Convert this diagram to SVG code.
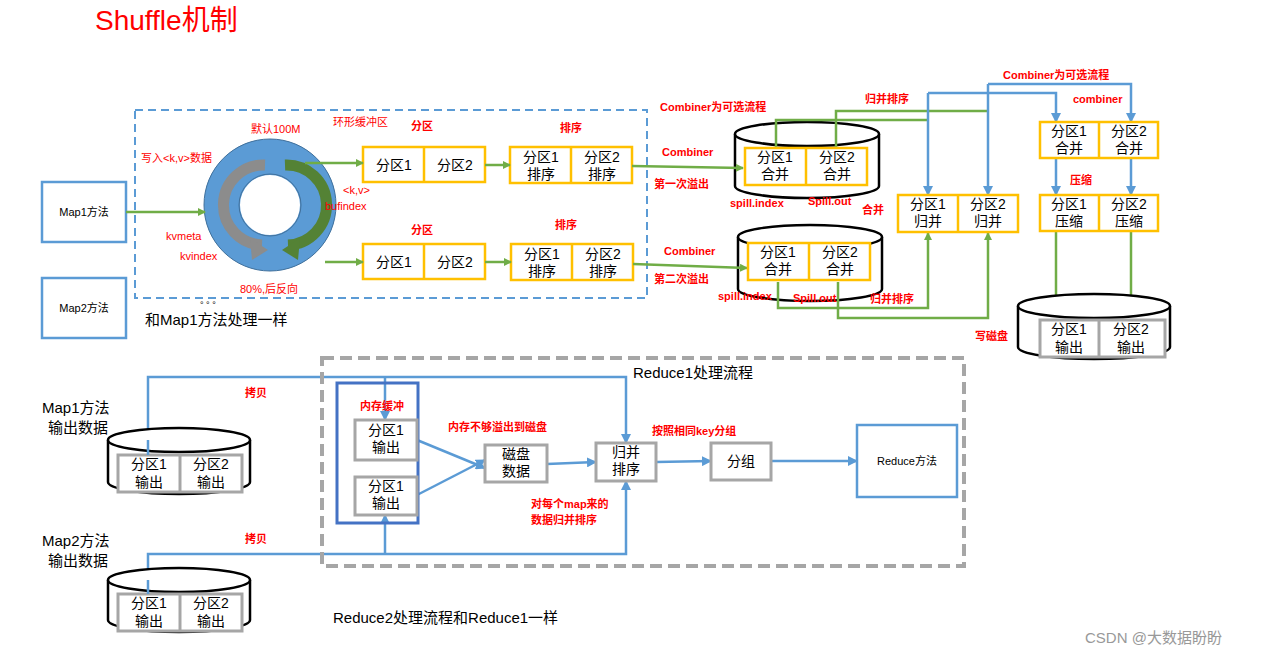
<svg xmlns="http://www.w3.org/2000/svg" width="1270" height="656" viewBox="0 0 1270 656">
<defs>
<style>
text{font-family:"Liberation Sans","Noto Sans CJK SC",sans-serif}
.r{fill:#ff0000;font-size:11px;font-weight:bold}
.rn{fill:#ff0000;font-size:11px}
.t{font-size:14px;fill:#000;text-anchor:middle}
.s{font-size:11px;fill:#000;text-anchor:middle}
.ob{fill:#fff;stroke:#ffc000;stroke-width:2.5}
.gb{fill:#fff;stroke:#a6a6a6;stroke-width:3}
.cyl{fill:#fff;stroke:#000;stroke-width:2.5}
.g{fill:none;stroke:#70ad47;stroke-width:2.5}
.b{fill:none;stroke:#5b9bd5;stroke-width:2.5}
</style>
<marker id="ag" markerWidth="8" markerHeight="8" refX="7" refY="4" orient="auto" markerUnits="userSpaceOnUse"><path d="M0,0L8,4L0,8z" fill="#70ad47"/></marker>
<marker id="ab" markerWidth="10" markerHeight="10" refX="9" refY="5" orient="auto" markerUnits="userSpaceOnUse"><path d="M0,0L10,5L0,10z" fill="#5b9bd5"/></marker>
</defs>
<rect width="1270" height="656" fill="#fff"/>
<text x="95" y="30" font-size="28" fill="#ff0000">Shuffle机制</text>

<g id="map1"><rect x="42" y="182" width="84" height="60" fill="#fff" stroke="#5b9bd5" stroke-width="2.5"/><text x="84" y="216" class="s">Map1方法</text></g>
<g id="map2"><rect x="42" y="278" width="84" height="60" fill="#fff" stroke="#5b9bd5" stroke-width="2.5"/><text x="84" y="312" class="s">Map2方法</text></g>
<rect x="135" y="110" width="512" height="188" fill="none" stroke="#5b9bd5" stroke-width="2" stroke-dasharray="8,5"/>

<g id="ring">
<circle cx="270" cy="205" r="48" fill="none" stroke="#5b9bd5" stroke-width="36"/>
<circle cx="270" cy="205" r="66" fill="none" stroke="#41719c" stroke-width="1"/>
<circle cx="270" cy="205" r="31" fill="none" stroke="#41719c" stroke-width="1"/>
<path d="M265,165 A40,40 0 0 0 262,245" fill="none" stroke="#8c8c8c" stroke-width="11"/>
<path d="M250,238 L268,250 L252,260 z" fill="#8c8c8c"/>
<path d="M285,165 A40,40 0 0 1 288,245" fill="none" stroke="#548235" stroke-width="11"/>
<path d="M300,238 L282,250 L298,260 z" fill="#548235"/>
</g>
<text x="251" y="133" class="rn">默认100M</text>
<text x="333" y="126" class="rn">环形缓冲区</text>
<text x="141" y="162" class="rn">写入&lt;k,v&gt;数据</text>
<text x="343" y="194" class="rn">&lt;k,v&gt;</text>
<text x="325" y="210" class="rn">bufindex</text>
<text x="166" y="240" class="rn">kvmeta</text>
<text x="180" y="260" class="rn">kvindex</text>
<text x="240" y="293" class="rn">80%,后反向</text>
<text x="145" y="325" font-size="15">和Map1方法处理一样</text>
<text x="200" y="308" font-size="9">° ° °</text>

<g id="p1"><rect x="363" y="147" width="122" height="35" class="ob"/><line x1="424" y1="147" x2="424" y2="182" stroke="#ffc000" stroke-width="2.5"/><text x="394" y="170" class="t">分区1</text><text x="455" y="170" class="t">分区2</text></g>
<g id="s1"><rect x="510" y="147" width="122" height="36" class="ob"/><line x1="571" y1="147" x2="571" y2="183" stroke="#ffc000" stroke-width="2.5"/><text x="541" y="162" class="t">分区1</text><text x="541" y="179" class="t">排序</text><text x="602" y="162" class="t">分区2</text><text x="602" y="179" class="t">排序</text></g>
<g id="p2"><rect x="363" y="244" width="122" height="35" class="ob"/><line x1="424" y1="244" x2="424" y2="279" stroke="#ffc000" stroke-width="2.5"/><text x="394" y="267" class="t">分区1</text><text x="455" y="267" class="t">分区2</text></g>
<g id="s2"><rect x="511" y="244" width="122" height="36" class="ob"/><line x1="572" y1="244" x2="572" y2="280" stroke="#ffc000" stroke-width="2.5"/><text x="542" y="259" class="t">分区1</text><text x="542" y="276" class="t">排序</text><text x="603" y="259" class="t">分区2</text><text x="603" y="276" class="t">排序</text></g>
<text x="411" y="130" class="r">分区</text><text x="560" y="132" class="r">排序</text>
<text x="411" y="234" class="r">分区</text><text x="555" y="229" class="r">排序</text>

<g id="cyl1"><path d="M735,134 V186 A72,12 0 0 0 879,186 V134" class="cyl"/><ellipse cx="807" cy="134" rx="72" ry="12" class="cyl"/></g>
<g id="cyl2"><path d="M738,237 V289 A72,12 0 0 0 882,289 V237" class="cyl"/><ellipse cx="810" cy="237" rx="72" ry="12" class="cyl"/></g>

<g id="conn">
<path d="M126,212 H205" class="g" marker-end="url(#ag)"/>
<path d="M305,163 H363" class="g" marker-end="url(#ag)"/>
<path d="M325,262 H363" class="g" marker-end="url(#ag)"/>
<path d="M485,165 H510" class="g" marker-end="url(#ag)"/>
<path d="M485,262 H511" class="g" marker-end="url(#ag)"/>
<path d="M632,166 L743,168" class="g" marker-end="url(#ag)"/>
<path d="M633,264 L747,268" class="g" marker-end="url(#ag)"/>
<path d="M776,148 V120 H928" class="g"/>
<path d="M836,148 V111 H988" class="g"/>
<path d="M778,282 V308 H928 V233" class="g" marker-end="url(#ag)"/>
<path d="M838,282 V318 H988 V233" class="g" marker-end="url(#ag)"/>
<path d="M928,93 H1056 V122" class="b" marker-end="url(#ab)"/>
<path d="M928,93 V195" class="b" marker-end="url(#ab)"/>
<path d="M988,84 H1131 V122" class="b" marker-end="url(#ab)"/>
<path d="M988,84 V195" class="b" marker-end="url(#ab)"/>
<path d="M1056,158 V195" class="b" marker-end="url(#ab)"/>
<path d="M1131,158 V195" class="b" marker-end="url(#ab)"/>
<path d="M1056,231 V320" class="g" marker-end="url(#ag)"/>
<path d="M1131,231 V320" class="g" marker-end="url(#ag)"/>

<path d="M148,455 V377 H626 V443" class="b" marker-end="url(#ab)"/>
<path d="M385,377 V420" class="b" marker-end="url(#ab)"/>
<path d="M148,594 V554 H626 V481" class="b" marker-end="url(#ab)"/>
<path d="M385,554 V515" class="b" marker-end="url(#ab)"/>
<path d="M417,440 L485,468" class="b" marker-end="url(#ab)"/>
<path d="M417,495 L485,460" class="b" marker-end="url(#ab)"/>
<path d="M547,464 L596,462" class="b" marker-end="url(#ab)"/>
<path d="M656,462 L711,461" class="b" marker-end="url(#ab)"/>
<path d="M771,461 L857,461" class="b" marker-end="url(#ab)"/>
</g>

<g id="c1box"><rect x="745" y="148" width="122" height="37" class="ob"/><line x1="806" y1="148" x2="806" y2="185" stroke="#ffc000" stroke-width="2.5"/><text x="775" y="162" class="t">分区1</text><text x="775" y="179" class="t">合并</text><text x="837" y="162" class="t">分区2</text><text x="837" y="179" class="t">合并</text></g>
<g id="c2box"><rect x="748" y="243" width="122" height="37" class="ob"/><line x1="809" y1="243" x2="809" y2="280" stroke="#ffc000" stroke-width="2.5"/><text x="778" y="257" class="t">分区1</text><text x="778" y="274" class="t">合并</text><text x="840" y="257" class="t">分区2</text><text x="840" y="274" class="t">合并</text></g>
<g id="merge"><rect x="898" y="195" width="120" height="37" class="ob"/><line x1="958" y1="195" x2="958" y2="232" stroke="#ffc000" stroke-width="2.5"/><text x="928" y="209" class="t">分区1</text><text x="928" y="226" class="t">归并</text><text x="988" y="209" class="t">分区2</text><text x="988" y="226" class="t">归并</text></g>
<g id="comb"><rect x="1040" y="122" width="118" height="36" class="ob"/><line x1="1099" y1="122" x2="1099" y2="158" stroke="#ffc000" stroke-width="2.5"/><text x="1069" y="136" class="t">分区1</text><text x="1069" y="153" class="t">合并</text><text x="1129" y="136" class="t">分区2</text><text x="1129" y="153" class="t">合并</text></g>
<g id="zip"><rect x="1040" y="195" width="118" height="36" class="ob"/><line x1="1099" y1="195" x2="1099" y2="231" stroke="#ffc000" stroke-width="2.5"/><text x="1069" y="209" class="t">分区1</text><text x="1069" y="226" class="t">压缩</text><text x="1129" y="209" class="t">分区2</text><text x="1129" y="226" class="t">压缩</text></g>
<g id="outcyl"><path d="M1018,306 V347 A76,12 0 0 0 1170,347 V306" class="cyl"/><ellipse cx="1094" cy="306" rx="76" ry="12" class="cyl"/>
<rect x="1040" y="320" width="125" height="37" class="gb"/><line x1="1099" y1="320" x2="1099" y2="357" stroke="#a6a6a6" stroke-width="3"/><text x="1069" y="334" class="t">分区1</text><text x="1069" y="352" class="t">输出</text><text x="1131" y="334" class="t">分区2</text><text x="1131" y="352" class="t">输出</text></g>

<text x="660" y="111" class="r">Combiner为可选流程</text>
<text x="662" y="156" class="r">Combiner</text>
<text x="654" y="188" class="r">第一次溢出</text>
<text x="730" y="207" class="r">spill.index</text>
<text x="808" y="205" class="r">Spill.out</text>
<text x="862" y="214" class="r">合并</text>
<text x="664" y="255" class="r">Combiner</text>
<text x="654" y="283" class="r">第二次溢出</text>
<text x="718" y="300" class="r">spill.index</text>
<text x="793" y="302" class="r">Spill.out</text>
<text x="870" y="303" class="r">归并排序</text>
<text x="865" y="103" class="r">归并排序</text>
<text x="1003" y="79" class="r">Combiner为可选流程</text>
<text x="1073" y="103" class="r">combiner</text>
<text x="1070" y="184" class="r">压缩</text>
<text x="975" y="340" class="r">写磁盘</text>

<rect x="322" y="358" width="642" height="208" fill="none" stroke="#a6a6a6" stroke-width="4" stroke-dasharray="12,6"/>
<text x="633" y="378" font-size="15">Reduce1处理流程</text>
<text x="42" y="413" font-size="15">Map1方法</text><text x="48" y="433" font-size="15">输出数据</text>
<text x="42" y="546" font-size="15">Map2方法</text><text x="48" y="566" font-size="15">输出数据</text>

<g id="m1out"><path d="M108,440 V482 A71,12 0 0 0 250,482 V440" class="cyl"/><ellipse cx="179" cy="440" rx="71" ry="12" class="cyl"/>
<rect x="118" y="455" width="124" height="37" class="gb"/><line x1="180" y1="455" x2="180" y2="492" stroke="#a6a6a6" stroke-width="3"/><text x="149" y="469" class="t">分区1</text><text x="149" y="487" class="t">输出</text><text x="211" y="469" class="t">分区2</text><text x="211" y="487" class="t">输出</text></g>
<g id="m2out"><path d="M108,580 V620 A71,12 0 0 0 250,620 V580" class="cyl"/><ellipse cx="179" cy="580" rx="71" ry="12" class="cyl"/>
<rect x="118" y="594" width="124" height="37" class="gb"/><line x1="180" y1="594" x2="180" y2="631" stroke="#a6a6a6" stroke-width="3"/><text x="149" y="608" class="t">分区1</text><text x="149" y="626" class="t">输出</text><text x="211" y="608" class="t">分区2</text><text x="211" y="626" class="t">输出</text></g>
<path d="M148,455 V440" class="b"/><path d="M148,594 V580" class="b"/>

<g id="mem"><rect x="337" y="383" width="81" height="140" fill="none" stroke="#4472c4" stroke-width="3"/></g>
<g id="mo1"><rect x="355" y="420" width="62" height="40" class="gb"/><text x="386" y="435" class="t">分区1</text><text x="386" y="452" class="t">输出</text></g>
<g id="mo2"><rect x="355" y="477" width="62" height="38" class="gb"/><text x="386" y="491" class="t">分区1</text><text x="386" y="508" class="t">输出</text></g>
<g id="disk"><rect x="485" y="445" width="62" height="37" class="gb"/><text x="516" y="459" class="t">磁盘</text><text x="516" y="476" class="t">数据</text></g>
<g id="msort"><rect x="596" y="443" width="60" height="38" class="gb"/><text x="626" y="457" class="t">归并</text><text x="626" y="474" class="t">排序</text></g>
<g id="group"><rect x="711" y="443" width="60" height="37" class="gb"/><text x="741" y="466" class="t">分组</text></g>
<g id="reduce"><rect x="857" y="425" width="100" height="72" fill="#fff" stroke="#5b9bd5" stroke-width="2.5"/><text x="907" y="465" class="s">Reduce方法</text></g>

<text x="245" y="397" class="r">拷贝</text>
<text x="245" y="543" class="r">拷贝</text>
<text x="360" y="410" class="r">内存缓冲</text>
<text x="448" y="431" class="r">内存不够溢出到磁盘</text>
<text x="652" y="435" class="r">按照相同key分组</text>
<text x="531" y="508" class="r">对每个map来的</text>
<text x="531" y="524" class="r">数据归并排序</text>
<text x="333" y="623" font-size="15">Reduce2处理流程和Reduce1一样</text>
<text x="1085" y="643" font-size="15" fill="#999">CSDN @大数据盼盼</text>
</svg>
